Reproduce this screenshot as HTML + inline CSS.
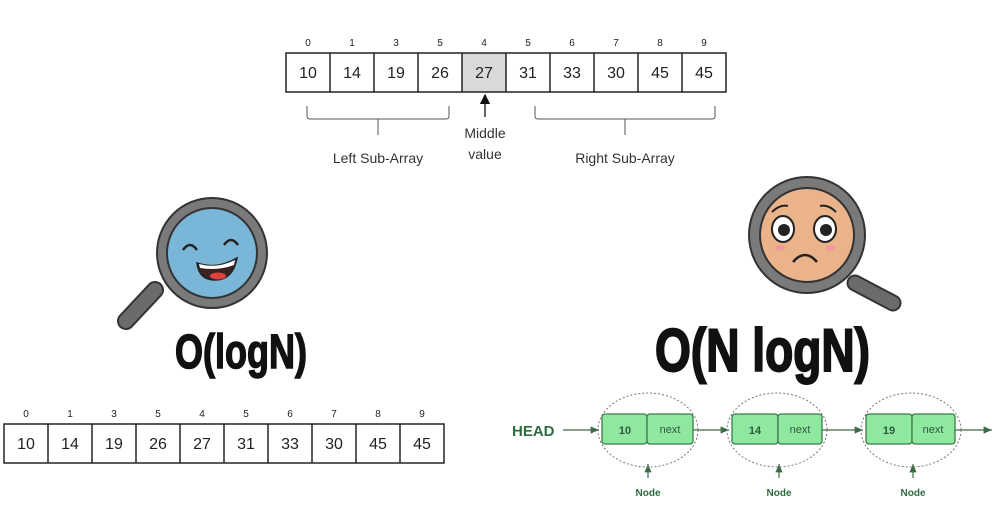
<!DOCTYPE html>
<html><head><meta charset="utf-8"><style>
html,body{margin:0;padding:0;background:#fff;}
svg{display:block;}
</style></head><body>
<svg width="995" height="519" viewBox="0 0 995 519" xmlns="http://www.w3.org/2000/svg" font-family="Liberation Sans, sans-serif">
<defs>
<marker id="ab" markerWidth="8" markerHeight="8" refX="7" refY="4" orient="auto"><path d="M0,0 L8,4 L0,8 z" fill="#111"/></marker>
<marker id="ag" markerWidth="8" markerHeight="8" refX="7" refY="4" orient="auto"><path d="M0,1 L7,4 L0,7 z" fill="#3d6b48"/></marker>
</defs>
<!-- top array -->
<g font-size="10" fill="#222" text-anchor="middle">
<text x="308" y="46">0</text><text x="352" y="46">1</text><text x="396" y="46">3</text><text x="440" y="46">5</text><text x="484" y="46">4</text><text x="528" y="46">5</text><text x="572" y="46">6</text><text x="616" y="46">7</text><text x="660" y="46">8</text><text x="704" y="46">9</text>
</g>
<rect x="462" y="53" width="44" height="39" fill="#d9d9d9"/>
<g fill="none" stroke="#222" stroke-width="1.5">
<rect x="286" y="53" width="440" height="39"/>
<line x1="330" y1="53" x2="330" y2="92"/><line x1="374" y1="53" x2="374" y2="92"/><line x1="418" y1="53" x2="418" y2="92"/><line x1="462" y1="53" x2="462" y2="92"/><line x1="506" y1="53" x2="506" y2="92"/><line x1="550" y1="53" x2="550" y2="92"/><line x1="594" y1="53" x2="594" y2="92"/><line x1="638" y1="53" x2="638" y2="92"/><line x1="682" y1="53" x2="682" y2="92"/>
</g>
<g font-size="16" fill="#222" text-anchor="middle">
<text x="308" y="78">10</text><text x="352" y="78">14</text><text x="396" y="78">19</text><text x="440" y="78">26</text><text x="484" y="78">27</text><text x="528" y="78">31</text><text x="572" y="78">33</text><text x="616" y="78">30</text><text x="660" y="78">45</text><text x="704" y="78">45</text>
</g>
<line x1="485" y1="117" x2="485" y2="95" stroke="#111" stroke-width="1.3" marker-end="url(#ab)"/>
<g fill="none" stroke="#555" stroke-width="1">
<path d="M307,106 V116 Q307,119 310,119 H446 Q449,119 449,116 V106 M378,119 V135"/>
<path d="M535,106 V116 Q535,119 538,119 H712 Q715,119 715,116 V106 M625,119 V135"/>
</g>
<g font-size="14" fill="#333" text-anchor="middle">
<text x="485" y="138">Middle</text><text x="485" y="159">value</text>
<text x="378" y="163">Left Sub-Array</text><text x="625" y="163">Right Sub-Array</text>
</g>
<!-- left magnifier -->
<line x1="155" y1="290" x2="126" y2="321" stroke="#333" stroke-width="18" stroke-linecap="round"/>
<line x1="155" y1="290" x2="126" y2="321" stroke="#6b6b6b" stroke-width="14" stroke-linecap="round"/>
<circle cx="212" cy="253" r="55" fill="#7a7a7a" stroke="#333" stroke-width="2"/>
<circle cx="212" cy="253" r="45" fill="#7ab6d8" stroke="#333" stroke-width="2"/>
<path d="M183,250 q7,-10 14,0 M224,245 q7,-10 14,0" stroke="#222" stroke-width="2.5" fill="none"/>
<path d="M197,263 q20,7 40,-5 q-4,22 -22,22 q-16,0 -18,-17z" fill="#3a2222" stroke="#222" stroke-width="1.5"/>
<path d="M199,264 q18,5 36,-4 l-1,5 q-16,6 -34,3z" fill="#fff"/>
<ellipse cx="218" cy="276" rx="8" ry="3.5" fill="#e0403a"/>
<text x="175" y="368" font-size="48" font-weight="bold" textLength="132" lengthAdjust="spacingAndGlyphs" fill="#111" stroke="#111" stroke-width="1.5">O(logN)</text>
<!-- right magnifier -->
<line x1="855" y1="283" x2="893" y2="303" stroke="#333" stroke-width="17" stroke-linecap="round"/>
<line x1="855" y1="283" x2="893" y2="303" stroke="#6b6b6b" stroke-width="13" stroke-linecap="round"/>
<circle cx="807" cy="235" r="58" fill="#7a7a7a" stroke="#333" stroke-width="2"/>
<circle cx="807" cy="235" r="47" fill="#eab38a" stroke="#333" stroke-width="2"/>
<ellipse cx="783" cy="229" rx="11" ry="13" fill="#fff" stroke="#222" stroke-width="2"/>
<ellipse cx="825" cy="229" rx="11" ry="13" fill="#fff" stroke="#222" stroke-width="2"/>
<circle cx="784" cy="230" r="6" fill="#222"/><circle cx="826" cy="230" r="6" fill="#222"/>
<path d="M772,212 q8,-8 16,-6 M820,206 q8,-2 16,6" stroke="#222" stroke-width="2" fill="none"/>
<ellipse cx="780" cy="248" rx="5" ry="3" fill="#f09a9a"/><ellipse cx="830" cy="248" rx="5" ry="3" fill="#f09a9a"/>
<path d="M793,262 q12,-14 24,0" stroke="#222" stroke-width="2.5" fill="none"/>
<text x="655" y="371" font-size="60" font-weight="bold" textLength="215" lengthAdjust="spacingAndGlyphs" fill="#111" stroke="#111" stroke-width="2">O(N logN)</text>
<!-- bottom array -->
<g font-size="10" fill="#222" text-anchor="middle">
<text x="26" y="417">0</text><text x="70" y="417">1</text><text x="114" y="417">3</text><text x="158" y="417">5</text><text x="202" y="417">4</text><text x="246" y="417">5</text><text x="290" y="417">6</text><text x="334" y="417">7</text><text x="378" y="417">8</text><text x="422" y="417">9</text>
</g>
<g fill="none" stroke="#222" stroke-width="1.5">
<rect x="4" y="424" width="440" height="39"/>
<line x1="48" y1="424" x2="48" y2="463"/><line x1="92" y1="424" x2="92" y2="463"/><line x1="136" y1="424" x2="136" y2="463"/><line x1="180" y1="424" x2="180" y2="463"/><line x1="224" y1="424" x2="224" y2="463"/><line x1="268" y1="424" x2="268" y2="463"/><line x1="312" y1="424" x2="312" y2="463"/><line x1="356" y1="424" x2="356" y2="463"/><line x1="400" y1="424" x2="400" y2="463"/>
</g>
<g font-size="16" fill="#222" text-anchor="middle">
<text x="26" y="449">10</text><text x="70" y="449">14</text><text x="114" y="449">19</text><text x="158" y="449">26</text><text x="202" y="449">27</text><text x="246" y="449">31</text><text x="290" y="449">33</text><text x="334" y="449">30</text><text x="378" y="449">45</text><text x="422" y="449">45</text>
</g>
<!-- linked list -->
<text x="512" y="436" font-size="15" font-weight="bold" fill="#2f6b3f">HEAD</text>
<g stroke="#3d6b48" stroke-width="1.2" marker-end="url(#ag)">
<line x1="563" y1="430" x2="599" y2="430"/>
<line x1="693" y1="430" x2="729" y2="430"/>
<line x1="822" y1="430" x2="863" y2="430"/>
<line x1="955" y1="430" x2="992" y2="430"/>
<line x1="648" y1="478" x2="648" y2="464"/>
<line x1="779" y1="478" x2="779" y2="464"/>
<line x1="913" y1="478" x2="913" y2="464"/>
</g>
<g fill="none" stroke="#777" stroke-width="1" stroke-dasharray="2,2">
<ellipse cx="648" cy="430" rx="50" ry="37"/>
<ellipse cx="777" cy="430" rx="50" ry="37"/>
<ellipse cx="911" cy="430" rx="50" ry="37"/>
</g>
<g fill="#8ee8a0" stroke="#3d7a4c" stroke-width="1.3">
<rect x="602" y="414" width="45" height="30" rx="3"/><rect x="647" y="414" width="46" height="30" rx="3"/>
<rect x="732" y="414" width="46" height="30" rx="3"/><rect x="778" y="414" width="44" height="30" rx="3"/>
<rect x="866" y="414" width="46" height="30" rx="3"/><rect x="912" y="414" width="43" height="30" rx="3"/>
</g>
<g font-size="11" fill="#2f5a3a" text-anchor="middle">
<text x="625" y="434" font-weight="bold">10</text><text x="670" y="433">next</text>
<text x="755" y="434" font-weight="bold">14</text><text x="800" y="433">next</text>
<text x="889" y="434" font-weight="bold">19</text><text x="933" y="433">next</text>
</g>
<g font-size="10" font-weight="bold" fill="#2f6b3f" text-anchor="middle">
<text x="648" y="496">Node</text><text x="779" y="496">Node</text><text x="913" y="496">Node</text>
</g>
</svg>
</body></html>
